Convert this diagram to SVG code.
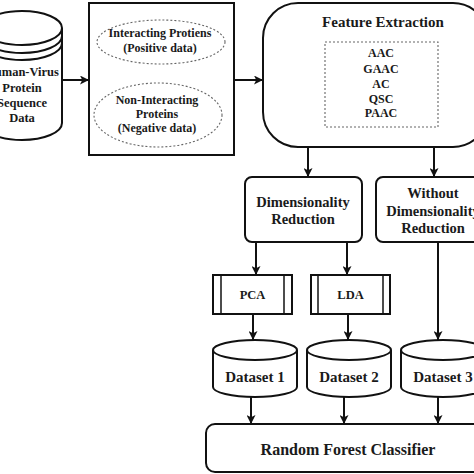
<svg xmlns="http://www.w3.org/2000/svg" width="474" height="474" viewBox="0 0 474 474">
<defs>
<style>
.s{fill:#fff;stroke:#111;stroke-width:2}
.d{fill:none;stroke:#666;stroke-width:1.1;stroke-dasharray:2 2}
.t{font-family:"Liberation Serif","DejaVu Serif",serif;font-weight:bold;fill:#1a1a1a;text-anchor:middle}
.c line{stroke:#111;stroke-width:2;marker-end:url(#ah)}
</style>
<marker id="ah" viewBox="0 0 10 10" refX="10" refY="5" markerWidth="9" markerHeight="9" markerUnits="userSpaceOnUse" orient="auto">
<path d="M0,0 L10,5 L0,10 L2.5,5 z" fill="#111"/>
</marker>
</defs>
<rect width="474" height="474" fill="#fff"/>

<g id="connectors" class="c">
<line x1="62" y1="80" x2="89" y2="80"/>
<line x1="234" y1="80" x2="263" y2="80"/>
<line x1="308" y1="147" x2="308" y2="177"/>
<line x1="434" y1="147" x2="434" y2="177"/>
<line x1="256" y1="242" x2="256" y2="275"/>
<line x1="347" y1="242" x2="347" y2="275"/>
<line x1="438" y1="242" x2="438" y2="340"/>
<line x1="253" y1="314" x2="253" y2="340"/>
<line x1="348" y1="314" x2="348" y2="340"/>
<line x1="251" y1="397" x2="251" y2="424"/>
<line x1="344" y1="397" x2="344" y2="424"/>
<line x1="438" y1="397" x2="438" y2="424"/>
</g>

<g id="source">
<path class="s" d="M-18,28 L-18,123 A40,17 0 0 0 62,123 L62,28"/>
<ellipse class="s" cx="22" cy="28" rx="40" ry="17"/>
<path class="s" fill="none" d="M-18,36 A40,17 0 0 0 62,36 M-18,43 A40,17 0 0 0 62,43" style="fill:none"/>
<text class="t" font-size="12.5" x="22" y="76">Human-Virus</text>
<text class="t" font-size="12.5" x="22" y="92">Protein</text>
<text class="t" font-size="12.5" x="22" y="107">Sequence</text>
<text class="t" font-size="12.5" x="22" y="122">Data</text>
</g>

<g id="proteins">
<rect class="s" x="89" y="3" width="145" height="152"/>
<ellipse class="d" cx="161" cy="42" rx="64" ry="22"/>
<text class="t" font-size="12" x="160" y="37">Interacting Protiens</text>
<text class="t" font-size="12" x="160" y="52">(Positive data)</text>
<ellipse class="d" cx="158" cy="115" rx="64" ry="32"/>
<text class="t" font-size="12" x="157" y="104">Non-Interacting</text>
<text class="t" font-size="12" x="157" y="118">Proteins</text>
<text class="t" font-size="12" x="157" y="132">(Negative data)</text>
</g>

<g id="feature-extraction">
<rect class="s" x="263" y="3" width="225" height="144" rx="35" ry="35"/>
<text class="t" font-size="15" x="383" y="27">Feature Extraction</text>
<rect class="d" x="325" y="42" width="113" height="85"/>
<text class="t" font-size="12" x="381" y="57">AAC</text>
<text class="t" font-size="12" x="381" y="73">GAAC</text>
<text class="t" font-size="12" x="381" y="88">AC</text>
<text class="t" font-size="12" x="381" y="103">QSC</text>
<text class="t" font-size="12" x="381" y="117">PAAC</text>
</g>

<g id="dim-reduction">
<rect class="s" x="245" y="177" width="117" height="65" rx="7"/>
<text class="t" font-size="14.5" x="303" y="207">Dimensionality</text>
<text class="t" font-size="14.5" x="303" y="224">Reduction</text>
</g>

<g id="without-dim">
<rect class="s" x="376" y="177" width="114" height="65" rx="7"/>
<text class="t" font-size="14.5" x="433" y="198">Without</text>
<text class="t" font-size="14.5" x="433" y="216">Dimensionality</text>
<text class="t" font-size="14.5" x="433" y="233">Reduction</text>
</g>

<g id="pca">
<rect class="s" x="213" y="275" width="79" height="39"/>
<line x1="221" y1="275" x2="221" y2="314" stroke="#111" stroke-width="1.5"/>
<line x1="284" y1="275" x2="284" y2="314" stroke="#111" stroke-width="1.5"/>
<text class="t" font-size="12.5" x="252.5" y="299">PCA</text>
</g>

<g id="lda">
<rect class="s" x="311" y="275" width="79" height="39"/>
<line x1="318" y1="275" x2="318" y2="314" stroke="#111" stroke-width="1.5"/>
<line x1="383" y1="275" x2="383" y2="314" stroke="#111" stroke-width="1.5"/>
<text class="t" font-size="12.5" x="350.5" y="299">LDA</text>
</g>

<g id="dataset1">
<path class="s" d="M213,350 L213,387 A42,10 0 0 0 297,387 L297,350"/>
<ellipse class="s" cx="255" cy="350" rx="42" ry="10"/>
<text class="t" font-size="15" x="255" y="382">Dataset 1</text>
</g>

<g id="dataset2">
<path class="s" d="M307,350 L307,387 A42,10 0 0 0 391,387 L391,350"/>
<ellipse class="s" cx="349" cy="350" rx="42" ry="10"/>
<text class="t" font-size="15" x="349" y="382">Dataset 2</text>
</g>

<g id="dataset3">
<path class="s" d="M401,350 L401,387 A42,10 0 0 0 485,387 L485,350"/>
<ellipse class="s" cx="443" cy="350" rx="42" ry="10"/>
<text class="t" font-size="15" x="443" y="382">Dataset 3</text>
</g>

<g id="random-forest">
<rect class="s" x="206" y="424" width="290" height="48" rx="9"/>
<text class="t" font-size="16" x="348" y="455">Random Forest Classifier</text>
</g>
</svg>
